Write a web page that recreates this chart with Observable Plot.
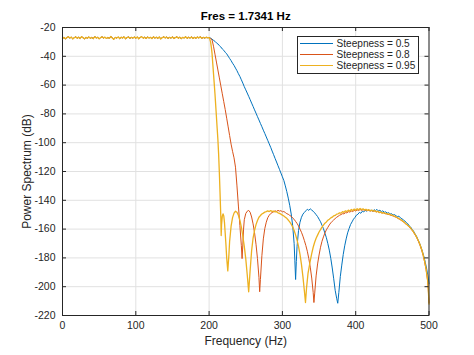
<!DOCTYPE html>
<html><head><meta charset="utf-8">
<script src="https://cdn.jsdelivr.net/npm/d3@7"></script>
<script src="https://cdn.jsdelivr.net/npm/@observablehq/plot@0.6"></script>
<style>
body{margin:0;background:#fff;font-family:"Liberation Sans",Arial,Helvetica,sans-serif;}
#wrap{position:relative;width:474px;height:355px;overflow:hidden;}
#legend{position:absolute;left:297px;top:36px;width:120px;height:36px;border:1px solid #262626;background:#fff;font-size:10.1px;color:#262626;}
.row{position:absolute;left:0;width:120px;height:11px;}
.sw{position:absolute;left:2px;width:33px;height:0;border-top:1px solid;top:5px;}
.lab{position:absolute;left:38.5px;white-space:nowrap;top:0;line-height:11px;}
</style></head><body><div id="wrap"></div>
<script>
const titleText = "Fres = 1.7341 Hz";
const xLabel = "Frequency (Hz)";
const yLabel = "Power Spectrum (dB)";
const xTicks = [0,100,200,300,400,500];
const yTicks = [-220,-200,-180,-160,-140,-120,-100,-80,-60,-40,-20];
const seriesNames = ["Steepness = 0.5","Steepness = 0.8","Steepness = 0.95"];
const seriesColors = ["#0072BD","#D95319","#EDB120"];

// shared passband (all three curves coincide here) [Hz, dB]
const passband = [[0,-27.6],[2,-26.9],[4,-27.8],[6,-27.0],[8,-26.4],[10,-27.3],[12,-26.7],[14,-27.9],[16,-27.1],[18,-26.5],[20,-27.4],[22,-26.8],[24,-27.6],[26,-26.3],[28,-27.2],[30,-27.8],[32,-26.9],[34,-27.4],[36,-26.6],[38,-27.5],[40,-26.9],[42,-27.7],[44,-26.4],[46,-27.2],[48,-26.8],[50,-27.9],[52,-27.0],[54,-26.5],[56,-27.3],[58,-26.7],[60,-27.6],[62,-26.9],[64,-27.5],[66,-26.2],[68,-27.4],[70,-28.2],[72,-26.9],[74,-27.3],[76,-26.6],[78,-27.7],[80,-26.8],[82,-27.2],[84,-26.5],[86,-27.8],[88,-27.0],[90,-26.6],[92,-27.5],[94,-26.9],[96,-27.3],[98,-26.7],[100,-27.4],[102,-26.6],[104,-27.8],[106,-27.0],[108,-26.3],[110,-27.4],[112,-26.8],[114,-27.6],[116,-26.7],[118,-27.2],[120,-26.9],[122,-27.7],[124,-26.5],[126,-27.3],[128,-26.8],[130,-27.5],[132,-26.6],[134,-27.9],[136,-27.1],[138,-26.5],[140,-27.2],[142,-26.7],[144,-27.5],[146,-26.9],[148,-27.3],[150,-26.6],[152,-27.6],[154,-27.0],[156,-26.5],[158,-27.4],[160,-26.8],[162,-27.7],[164,-26.9],[166,-27.2],[168,-26.4],[170,-27.5],[172,-26.8],[174,-27.3],[176,-26.6],[178,-27.6],[180,-26.9],[182,-27.4],[184,-26.7],[186,-27.2],[188,-26.5],[190,-27.5],[192,-26.9],[194,-27.3],[196,-26.8],[198,-27.1],[200,-27.0]];

// Steepness = 0.5 beyond the passband
const blueTail = [[202,-27.4],[204,-28.1],[206,-28.9],[208,-29.6],[210,-30.7],[212,-31.4],[214,-32.6],[216,-33.5],[218,-34.9],[220,-35.8],[222,-37.2],[224,-38.3],[226,-39.9],[228,-41.5],[230,-43.0],[232,-44.8],[234,-46.3],[236,-48.2],[238,-50.0],[240,-52.1],[242,-54.0],[244,-56.3],[246,-58.6],[248,-61.1],[250,-63.3],[252,-65.5],[254,-67.8],[256,-70.1],[258,-72.5],[260,-74.8],[262,-77.2],[264,-79.5],[266,-81.9],[268,-84.2],[270,-86.6],[272,-88.9],[274,-91.3],[276,-93.6],[278,-96.0],[280,-98.4],[282,-100.8],[284,-103.2],[286,-105.8],[288,-108.3],[290,-110.9],[292,-113.4],[294,-116.0],[296,-118.5],[298,-121.1],[300,-123.7],[302,-126.3],[304,-130.0],[306,-134.0],[308,-138.5],[310,-143.5],[312,-149.5],[314,-157.5],[316,-170.0],[317,-182.0],[318,-195.0],[319,-182.5],[320,-172.0],[322,-161.0],[324,-155.2],[326,-151.8],[328,-149.6],[330,-148.4],[332,-147.3],[334,-146.2],[336,-147.0],[338,-145.9],[340,-146.8],[342,-147.6],[344,-148.7],[346,-150.0],[348,-151.3],[350,-153.1],[352,-154.9],[354,-157.3],[356,-159.7],[358,-162.8],[360,-166.0],[362,-170.1],[364,-174.6],[366,-180.3],[368,-187.0],[370,-194.5],[372,-202.5],[374,-208.0],[375.5,-211.5],[377,-204.0],[379,-193.0],[381,-185.0],[383,-177.6],[385,-171.6],[387,-166.8],[389,-162.6],[391,-159.6],[393,-156.8],[395,-155.0],[397,-153.1],[399,-151.9],[401,-150.3],[403,-149.7],[405,-148.4],[407,-149.0],[409,-147.6],[411,-148.1],[413,-147.0],[415,-147.6],[417,-146.5],[419,-147.3],[421,-146.8],[423,-147.6],[425,-146.5],[427,-147.2],[429,-146.3],[431,-147.4],[433,-146.9],[435,-147.8],[437,-147.3],[439,-148.3],[441,-148.0],[443,-148.9],[445,-148.6],[447,-149.5],[449,-149.3],[451,-150.2],[453,-149.9],[455,-150.8],[457,-151.3],[459,-151.0],[461,-152.2],[463,-152.8],[465,-153.6],[467,-154.3],[469,-155.5],[471,-156.2],[473,-157.8],[475,-158.6],[477,-160.2],[479,-161.5],[481,-163.4],[483,-165.0],[485,-167.3],[487,-169.6],[489,-172.4],[491,-175.5],[493,-179.0],[495,-183.2],[497,-188.0],[499,-194.0],[500,-198.0]];

// Steepness = 0.8 beyond the passband
const orangeTail = [[202,-27.6],[204,-28.5],[206,-33.0],[208,-38.5],[210,-44.0],[212,-49.5],[214,-55.0],[216,-60.5],[218,-66.0],[220,-71.5],[222,-77.0],[224,-83.0],[226,-89.0],[228,-95.0],[230,-101.0],[232,-106.0],[234,-110.5],[236,-117.0],[238,-130.0],[240,-144.0],[242,-157.5],[244,-171.5],[245,-180.5],[246,-171.0],[247,-160.0],[248,-153.5],[250,-149.2],[252,-147.6],[254,-147.0],[256,-148.3],[258,-151.6],[260,-156.4],[262,-162.5],[264,-170.5],[266,-180.5],[268,-193.5],[269,-203.5],[270,-195.0],[272,-178.5],[274,-166.8],[276,-159.6],[278,-155.2],[280,-152.1],[282,-150.4],[284,-149.2],[286,-148.5],[288,-148.0],[290,-147.3],[292,-147.7],[294,-147.0],[296,-147.5],[298,-147.2],[300,-148.0],[302,-147.8],[304,-148.5],[306,-149.3],[308,-149.7],[310,-150.5],[312,-151.1],[314,-152.3],[316,-153.2],[318,-154.7],[320,-156.1],[322,-157.8],[324,-160.0],[326,-162.2],[328,-164.9],[330,-168.0],[332,-171.4],[334,-175.4],[336,-180.4],[338,-186.4],[340,-194.0],[342,-204.0],[343,-211.0],[344,-205.0],[346,-192.5],[348,-184.2],[350,-178.0],[352,-172.6],[354,-168.5],[356,-165.4],[358,-162.7],[360,-160.5],[362,-158.8],[364,-157.1],[366,-155.7],[368,-154.6],[370,-153.6],[372,-152.7],[374,-151.8],[376,-151.1],[378,-150.4],[380,-149.9],[382,-149.3],[384,-149.4],[386,-148.6],[388,-148.7],[390,-147.9],[392,-148.2],[394,-147.5],[396,-147.8],[398,-147.0],[400,-147.4],[402,-146.7],[404,-147.1],[406,-146.4],[408,-147.0],[410,-146.5],[412,-146.9],[414,-146.6],[416,-147.2],[418,-146.9],[420,-147.5],[422,-147.1],[424,-147.7],[426,-147.5],[428,-148.1],[430,-147.8],[432,-148.4],[434,-148.3],[436,-148.8],[438,-148.7],[440,-149.3],[442,-149.4],[444,-149.8],[446,-150.0],[448,-150.4],[450,-150.7],[452,-151.1],[454,-151.6],[456,-152.0],[458,-152.7],[460,-153.2],[462,-153.9],[464,-154.6],[466,-155.3],[468,-156.3],[470,-157.1],[472,-158.1],[474,-159.0],[476,-160.2],[478,-161.6],[480,-163.1],[482,-164.8],[484,-166.8],[486,-169.0],[488,-171.6],[490,-174.6],[492,-178.2],[494,-182.8],[496,-188.0],[498,-195.5],[499,-202.0],[500,-211.0]];

// Steepness = 0.95 beyond the passband
const yellowTail = [[201,-28.2],[202,-30.0],[203,-33.5],[204,-38.0],[205,-45.0],[206,-52.0],[207,-59.0],[208,-66.0],[209,-74.0],[210,-82.0],[211,-90.0],[212,-98.0],[213,-108.0],[214,-121.0],[215,-136.0],[216,-152.0],[216.5,-164.5],[217,-157.0],[218,-151.0],[219,-149.4],[220,-150.8],[221,-155.5],[222,-163.0],[223,-171.0],[224,-180.0],[225.5,-189.0],[227,-178.0],[228,-168.5],[230,-158.0],[232,-152.0],[234,-148.9],[236,-147.6],[238,-148.3],[240,-150.4],[242,-153.8],[244,-158.6],[246,-164.8],[248,-172.0],[250,-180.5],[252,-191.5],[254,-203.5],[256,-188.5],[258,-175.0],[260,-166.2],[262,-160.8],[264,-156.9],[266,-154.0],[268,-151.8],[270,-150.6],[272,-149.5],[274,-148.9],[276,-148.2],[278,-147.9],[280,-147.4],[282,-147.8],[284,-147.2],[286,-147.7],[288,-147.5],[290,-148.1],[292,-147.9],[294,-148.7],[296,-149.1],[298,-149.6],[300,-150.3],[302,-150.9],[304,-151.7],[306,-152.5],[308,-153.7],[310,-155.0],[312,-156.6],[314,-158.5],[316,-161.0],[318,-164.0],[320,-167.6],[322,-172.0],[324,-177.5],[326,-184.5],[328,-193.0],[330,-203.0],[331.5,-211.0],[333,-200.5],[335,-190.5],[338,-182.0],[340,-177.0],[342,-172.6],[344,-169.1],[346,-166.3],[348,-164.2],[350,-162.0],[352,-160.4],[354,-158.6],[356,-157.3],[358,-155.9],[360,-155.0],[362,-153.9],[364,-153.1],[366,-152.2],[368,-151.7],[370,-150.8],[372,-150.5],[374,-149.6],[376,-149.4],[378,-148.7],[380,-148.9],[382,-147.9],[384,-148.4],[386,-147.3],[388,-147.9],[390,-146.8],[392,-147.5],[394,-146.4],[396,-147.1],[398,-146.1],[400,-146.9],[402,-145.8],[404,-146.6],[406,-145.6],[408,-146.5],[410,-145.9],[412,-146.8],[414,-146.2],[416,-147.0],[418,-146.5],[420,-147.3],[422,-146.8],[424,-147.6],[426,-147.1],[428,-148.0],[430,-147.6],[432,-148.5],[434,-148.1],[436,-148.9],[438,-148.6],[440,-149.0],[442,-149.2],[444,-149.6],[446,-149.5],[448,-150.2],[450,-150.3],[452,-150.9],[454,-151.2],[456,-151.8],[458,-152.3],[460,-153.0],[462,-153.5],[464,-154.4],[466,-155.0],[468,-156.1],[470,-156.8],[472,-157.9],[474,-158.6],[476,-160.0],[478,-161.2],[480,-162.9],[482,-164.4],[484,-166.5],[486,-168.6],[488,-171.2],[490,-174.2],[492,-177.8],[494,-182.2],[496,-187.6],[498,-195.0],[499,-201.0],[500,-212.0]];

const tails = [blueTail, orangeTail, yellowTail];

const W = 474, H = 355, mL = 62, mR = 45.5, mT = 27, mB = 40;
const fw = W - mL - mR, fh = H - mT - mB, tk = 4;
const axisColor = "#262626";
const font = "'Liberation Sans', Arial, Helvetica, sans-serif";

const lineMarks = tails.map((t, i) =>
  Plot.line(passband.concat(t), {x: d => d[0], y: d => d[1], stroke: seriesColors[i], strokeWidth: i === 2 ? 1.3 : 1})
);

const chart = Plot.plot({
  width: W, height: H,
  marginLeft: mL, marginRight: mR, marginTop: mT, marginBottom: mB,
  style: {fontFamily: font, background: "#fff", color: axisColor, overflow: "visible"},
  x: {domain: [0, 500]},
  y: {domain: [-220, -20]},
  marks: [
    Plot.gridX(xTicks, {stroke: "#e1e1e1", strokeOpacity: 1}),
    Plot.gridY(yTicks, {stroke: "#e1e1e1", strokeOpacity: 1}),
    ...lineMarks,
    Plot.tickX(xTicks, {x: d => d, insetTop: fh - tk, stroke: axisColor}),
    Plot.tickX(xTicks, {x: d => d, insetBottom: fh - tk, stroke: axisColor}),
    Plot.tickY(yTicks, {y: d => d, insetRight: fw - tk, stroke: axisColor}),
    Plot.tickY(yTicks, {y: d => d, insetLeft: fw - tk, stroke: axisColor}),
    Plot.frame({stroke: axisColor}),
    Plot.axisX(xTicks, {tickSize: 0, tickPadding: 6, fontSize: 10.5, fill: axisColor, label: null, tickFormat: d => String(d)}),
    Plot.axisY(yTicks, {tickSize: 0, tickPadding: 7, fontSize: 10.5, fill: axisColor, label: null, tickFormat: d => String(d)}),
    Plot.text([xLabel], {text: d => d, frameAnchor: "bottom", textAnchor: "middle", lineAnchor: "middle", dy: 26, fontSize: 12, fill: axisColor}),
    Plot.text([yLabel], {text: d => d, frameAnchor: "left", textAnchor: "middle", lineAnchor: "middle", dx: -35, rotate: -90, fontSize: 12, fill: axisColor}),
    Plot.text([titleText], {text: d => d, frameAnchor: "top", textAnchor: "middle", lineAnchor: "middle", dy: -11, fontSize: 11.5, fontWeight: "bold", fill: "#000"})
  ]
});

const wrap = document.getElementById("wrap");
wrap.appendChild(chart);

const legend = document.createElement("div");
legend.id = "legend";
const rowTops = [1, 12.2, 23.4];
seriesNames.forEach((name, i) => {
  const row = document.createElement("div");
  row.className = "row";
  row.style.top = rowTops[i] + "px";
  const sw = document.createElement("div");
  sw.className = "sw";
  sw.style.borderTopColor = seriesColors[i];
  const lab = document.createElement("div");
  lab.className = "lab";
  lab.textContent = name;
  row.appendChild(sw);
  row.appendChild(lab);
  legend.appendChild(row);
});
wrap.appendChild(legend);
</script></body></html>
